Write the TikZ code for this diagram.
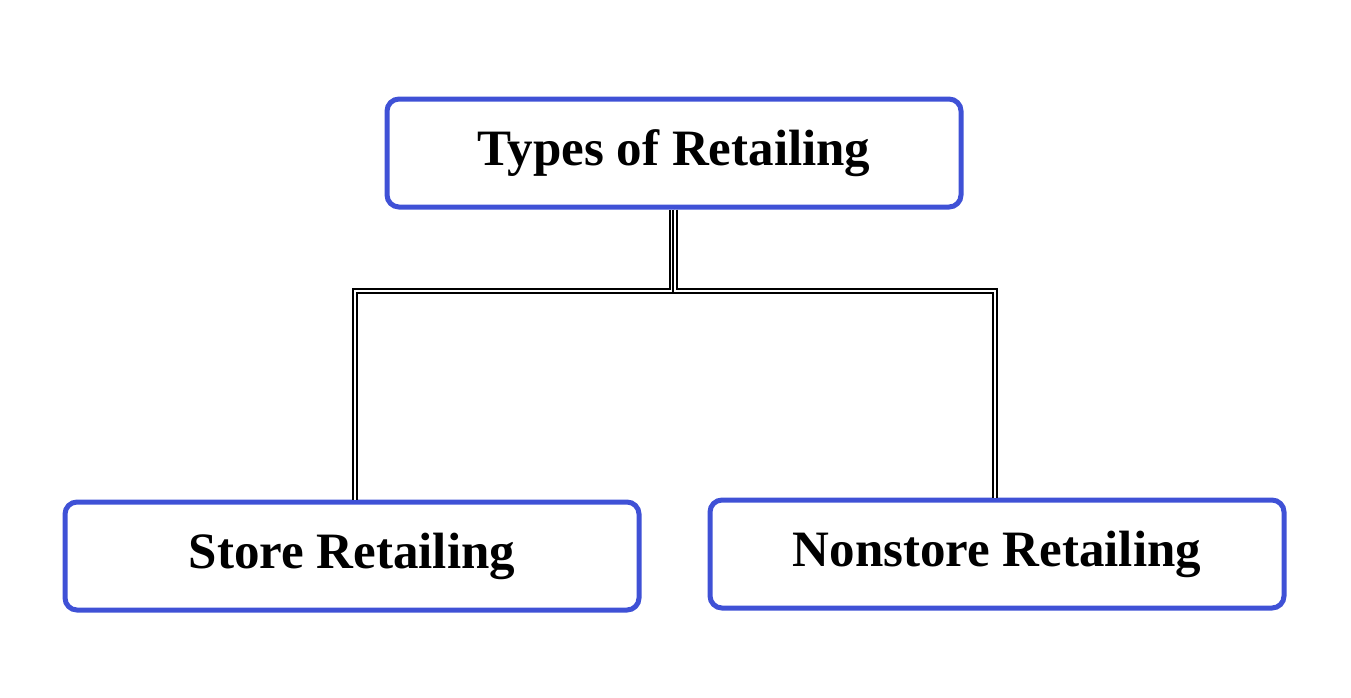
\documentclass[tikz,border=0pt]{standalone}
\usepackage{fontspec}
\setmainfont{Liberation Serif}
\definecolor{boxblue}{HTML}{3F51D6}
\begin{document}
\begin{tikzpicture}[x=1pt,y=-1pt,
  box/.style={draw=boxblue,line width=5pt,rounded corners=12pt,minimum width=574pt,minimum height=108pt,font=\fontsize{51}{55}\selectfont\bfseries},
  conn/.style={draw=black,double=white,double distance=2pt,line width=1.6pt}]
\useasboundingbox (0,0) rectangle (1351,697);
\node[box] (top) at (674,153) {Types of Retailing};
\node[box] (store) at (352,556) {Store Retailing};
\node[box] (non) at (997,554) {Nonstore Retailing};
\coordinate (jl) at (355,291);
\coordinate (jr) at (995,291);
\draw[conn] (top.south -| 672,0) |- (jl) -- (jl |- store.north);
\draw[conn] (top.south -| 675,0) |- (jr) -- (jr |- non.north);
\end{tikzpicture}
\end{document}
